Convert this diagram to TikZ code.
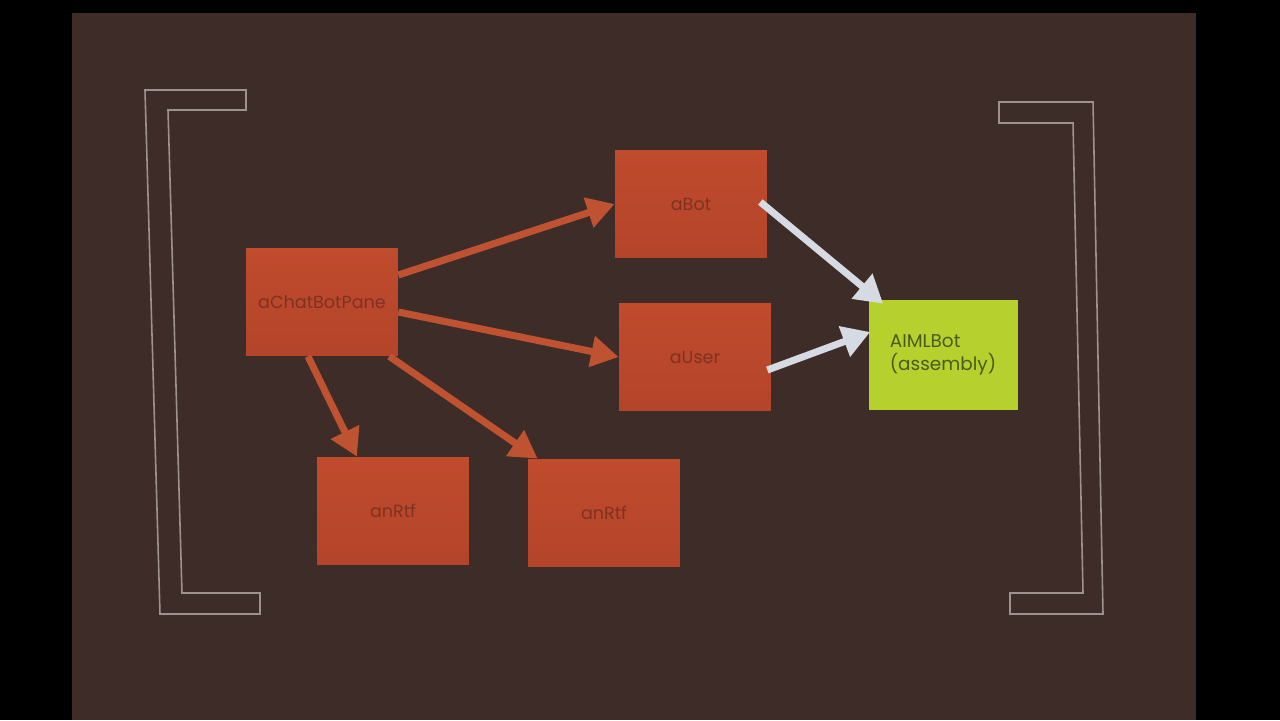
\documentclass[tikz,border=0pt]{standalone}
\usepackage{fontspec}
\setmainfont{Poppins}
\usepackage{xcolor}
\usetikzlibrary{arrows.meta,calc}
\definecolor{screen}{HTML}{3E2C29}
\definecolor{boxred}{HTML}{B4442A}
\definecolor{boxtop}{HTML}{C04B2D}
\definecolor{arrred}{HTML}{BF5230}
\definecolor{labred}{HTML}{7E3222}
\definecolor{boxgreen}{HTML}{B6D12E}
\definecolor{labgreen}{HTML}{4B5A1C}
\definecolor{brack}{HTML}{9C928F}
\definecolor{arrwhite}{HTML}{D6DAE2}
\tikzset{
  obj/.style={top color=boxtop, bottom color=boxred, minimum width=3.04cm, minimum height=2.16cm,
    inner sep=0pt, text=labred, font=\fontsize{10}{12}\selectfont},
  asm/.style={fill=boxgreen, minimum width=2.98cm, minimum height=2.2cm, inner sep=0pt,
    text=labgreen, align=left, font=\fontsize{10.5}{13}\selectfont},
  redarr/.style={draw=arrred, line width=4pt, -{Triangle[length=0.55cm,width=0.6cm]}},
  whitearr/.style={draw=arrwhite, line width=4pt, -{Triangle[length=0.55cm,width=0.62cm]}},
  bracket/.style={draw=brack, line width=0.9pt, line join=miter}
}
\begin{document}
\begin{tikzpicture}[x=0.02cm, y=-0.02cm]
    \useasboundingbox (0,0) rectangle (1280,720);
    % Projection screen
    \fill[black] (0,0) rectangle (1280,720);
    \fill[screen] (72,13) rectangle (1196,720);

    % Brackets
    \draw[bracket] (246,90) -- (145,90) -- (160,614) -- (260,614) -- (260,593) -- (182,593) -- (168,110) -- (246,110) -- cycle;
    \draw[bracket] (999,102) -- (1093,102) -- (1103,614) -- (1010,614) -- (1010,593) -- (1083,593) -- (1073,123) -- (999,123) -- cycle;

    % Objects
    \node[obj] (pane) at (322,302) {aChatBotPane};
    \node[obj] (bot) at (691,204) {aBot};
    \node[obj] (user) at (695,357) {aUser};
    \node[obj] (rtfa) at (393,511) {anRtf};
    \node[obj] (rtfb) at (604,513) {anRtf};
    \node[asm] (aiml) at (943,355) {AIMLBot\\(assembly)};

    % References
    \draw[redarr] ($(pane.east)+(0,-27)$) -- (bot.west);
    \draw[redarr] ($(pane.east)+(0,10)$) -- (user.west);
    \draw[redarr] ($(pane.south)+(-14,0)$) -- ($(rtfa.north)+(-36,0)$);
    \draw[redarr] ($(pane.south east)+(-9,0)$) -- ($(rtfb.north west)+(10,0)$);
    \draw[whitearr] ($(bot.east)+(-7,-2)$) -- ($(aiml.north west)+(15,4)$);
    \draw[whitearr] ($(user.east)+(-4,13)$) -- ($(aiml.west)+(2,-23)$);

\end{tikzpicture}
\end{document}
